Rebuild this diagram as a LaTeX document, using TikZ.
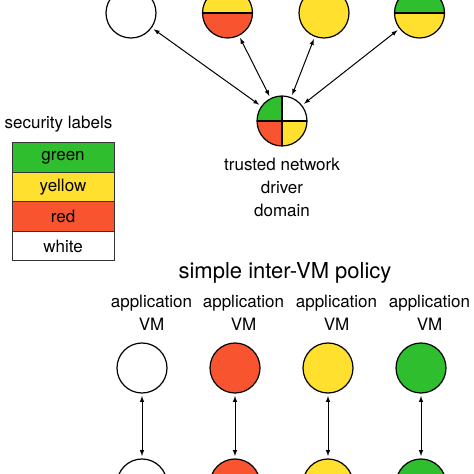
\documentclass[tikz,border=0pt]{standalone}
\usepackage{fontspec}
\setmainfont{TeX Gyre Heros}
\usetikzlibrary{positioning}
\definecolor{vmgreen}{HTML}{2EBE2E}
\definecolor{vmyellow}{HTML}{FFE02E}
\definecolor{vmred}{HTML}{F7542F}
\tikzset{
    label font/.style={font=\fontsize{17}{23}\selectfont},
    vm/.style={circle,draw,line width=1.2pt,minimum size=50pt,inner sep=0pt,outer sep=3pt,fill=#1},
    vm/.default=white,
    halfvm/.style 2 args={vm,path picture={
        \fill[#1] (path picture bounding box.north west) rectangle (path picture bounding box.east);
        \fill[#2] (path picture bounding box.west) rectangle (path picture bounding box.south east);
        \draw[line width=1.2pt] (path picture bounding box.west) -- (path picture bounding box.east);}},
    quadvm/.style={vm,path picture={
        \fill[vmgreen] (path picture bounding box.north west) rectangle (path picture bounding box.center);
        \fill[vmred] (path picture bounding box.west) rectangle (path picture bounding box.south);
        \fill[vmyellow] (path picture bounding box.center) rectangle (path picture bounding box.south east);
        \draw[line width=1.2pt] (path picture bounding box.west) -- (path picture bounding box.east)
            (path picture bounding box.north) -- (path picture bounding box.south);}},
    legend/.style={draw=black!80,line width=1pt,minimum width=102pt,minimum height=29.5pt,inner sep=0pt,outer sep=0pt,label font},
    link/.style={latex-latex,line width=1pt}
}
\begin{document}
\begin{tikzpicture}[x=1pt,y=1pt,label font]
    \useasboundingbox (0,0) rectangle (474,474);
    \begin{scope}
    \clip (0,0) rectangle (474,474);
    % upper part: trusted network driver domain
    \node[vm] (top1) at (131,461) {};
    \node[halfvm={vmyellow}{vmred}] (top2) at (227.5,461) {};
    \node[vm=vmyellow] (top3) at (324,461) {};
    \node[halfvm={vmgreen}{vmyellow}] (top4) at (419.5,461) {};
    \node[quadvm] (tnd) at (282,353) {};
    \node[align=center] (tndtext) at (282,287) {trusted network\\driver\\domain};
    \draw[link] (top1) -- (tnd);
    \draw[link] (top2) -- (tnd);
    \draw[link] (top3) -- (tnd);
    \draw[link] (top4) -- (tnd);

    % legend
    \node (legtitle) at (58.5,350) {security labels};
    \node[legend,fill=vmgreen] (lgreen) at (63,316.25) {green};
    \node[legend,fill=vmyellow,below=0pt of lgreen] (lyellow) {yellow};
    \node[legend,fill=vmred,below=0pt of lyellow] (lred) {red};
    \node[legend,fill=white,below=0pt of lred] (lwhite) {white};

    % lower part: simple inter-VM policy
    \node[font=\fontsize{22}{26}\selectfont] (policy) at (285,201) {simple inter-VM policy};
    \node[align=center] (txt1) at (151.5,161) {application\\VM};
    \node[align=center] (txt2) at (243.5,161) {application\\VM};
    \node[align=center] (txt3) at (336.5,161) {application\\VM};
    \node[align=center] (txt4) at (429.5,161) {application\\VM};
    \node[vm] (app1) at (142,106) {};
    \node[vm=vmred] (app2) at (235,106) {};
    \node[vm=vmyellow] (app3) at (328,106) {};
    \node[vm=vmgreen] (app4) at (421,106) {};
    \node[vm] (low1) at (142,-10) {};
    \node[vm=vmred] (low2) at (235,-10) {};
    \node[vm=vmyellow] (low3) at (328,-10) {};
    \node[vm=vmgreen] (low4) at (421,-10) {};
    \draw[link] (app1) -- (low1);
    \draw[link] (app2) -- (low2);
    \draw[link] (app3) -- (low3);
    \draw[link] (app4) -- (low4);
    \end{scope}
\end{tikzpicture}
\end{document}
